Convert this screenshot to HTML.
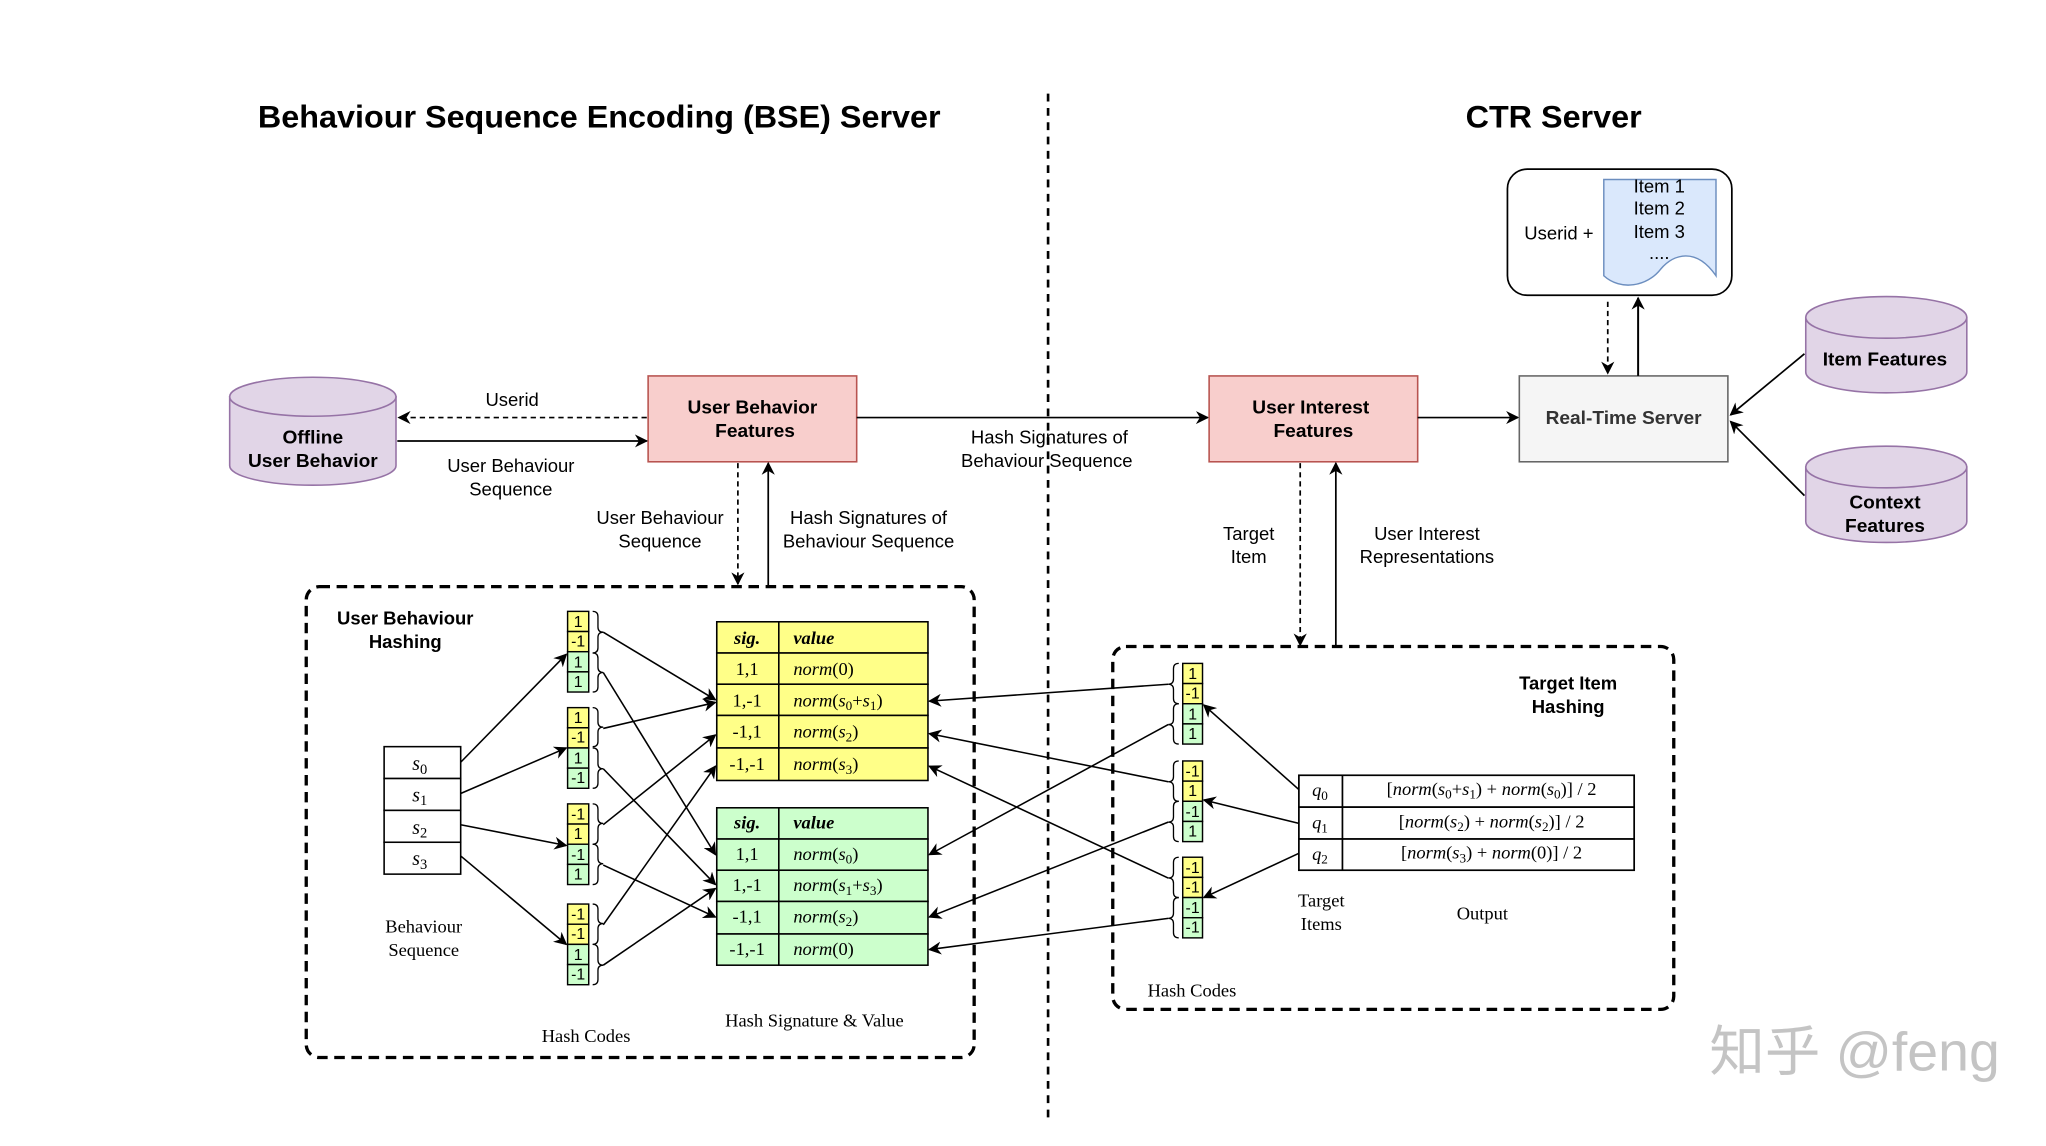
<!DOCTYPE html>
<html><head><meta charset="utf-8"><style>
html,body{margin:0;padding:0;background:#fff;}
svg{display:block;}
.sans{font-family:"Liberation Sans",sans-serif;}
.serif{font-family:"Liberation Serif",serif;}
</style></head><body>
<svg width="2046" height="1146" viewBox="0 0 1550 881" preserveAspectRatio="none" xmlns="http://www.w3.org/2000/svg">
<defs>
<marker id="ah" markerWidth="10" markerHeight="10" refX="9" refY="5" orient="auto" markerUnits="userSpaceOnUse">
<path d="M0,0 L10,5 L0,10 L3,5 z" fill="#000"/></marker>
</defs>
<rect width="1550" height="881" fill="#fff"/>

<text x="454" y="98" text-anchor="middle" class="sans" font-size="24.5" font-weight="bold">Behaviour Sequence Encoding (BSE) Server</text>
<text x="1177" y="98" text-anchor="middle" class="sans" font-size="24.5" font-weight="bold">CTR Server</text>
<line x1="794" y1="72" x2="794" y2="862" stroke="#000" stroke-width="2" stroke-dasharray="6,5"/>

<g stroke="#9673a6" stroke-width="1.2" fill="#e1d5e7">
<path d="M174,305 L174,358 A63,15 0 0 0 300,358 L300,305 Z"/>
<ellipse cx="237" cy="305" rx="63" ry="15"/>
</g>
<text x="237" y="341" text-anchor="middle" class="sans" font-size="14.5" font-weight="bold">Offline</text>
<text x="237" y="359" text-anchor="middle" class="sans" font-size="14.5" font-weight="bold">User Behavior</text>

<rect x="491" y="289" width="158" height="66" fill="#f8cecc" stroke="#b85450" stroke-width="1.2"/>
<text x="570" y="318" text-anchor="middle" class="sans" font-size="14.5" font-weight="bold">User Behavior</text>
<text x="572" y="336" text-anchor="middle" class="sans" font-size="14.5" font-weight="bold">Features</text>

<line x1="490" y1="321" x2="302" y2="321" stroke="#000" stroke-width="1.3" stroke-dasharray="4,3" marker-end="url(#ah)"/>
<text x="388" y="312" text-anchor="middle" class="sans" font-size="14">Userid</text>
<line x1="301" y1="339" x2="490" y2="339" stroke="#000" stroke-width="1.3" marker-end="url(#ah)"/>
<text x="387" y="363" text-anchor="middle" class="sans" font-size="14">User Behaviour</text>
<text x="387" y="381" text-anchor="middle" class="sans" font-size="14">Sequence</text>

<line x1="649" y1="321" x2="915" y2="321" stroke="#000" stroke-width="1.3" marker-end="url(#ah)"/>
<text x="795" y="341" text-anchor="middle" class="sans" font-size="14">Hash Signatures of</text>
<text x="793" y="359" text-anchor="middle" class="sans" font-size="14">Behaviour Sequence</text>

<rect x="916" y="289" width="158" height="66" fill="#f8cecc" stroke="#b85450" stroke-width="1.2"/>
<text x="993" y="318" text-anchor="middle" class="sans" font-size="14.5" font-weight="bold">User Interest</text>
<text x="995" y="336" text-anchor="middle" class="sans" font-size="14.5" font-weight="bold">Features</text>
<line x1="1074" y1="321" x2="1150" y2="321" stroke="#000" stroke-width="1.3" marker-end="url(#ah)"/>

<rect x="1151" y="289" width="158" height="66" fill="#f5f5f5" stroke="#666" stroke-width="1.2"/>
<text x="1230" y="326" text-anchor="middle" class="sans" font-size="14.5" font-weight="bold" fill="#333">Real-Time Server</text>

<g stroke="#9673a6" stroke-width="1.2" fill="#e1d5e7">
<path d="M1368,244 L1368,286 A61,16 0 0 0 1490,286 L1490,244 Z"/>
<ellipse cx="1429" cy="244" rx="61" ry="16"/>
</g>
<text x="1428" y="281" text-anchor="middle" class="sans" font-size="14.5" font-weight="bold">Item Features</text>
<g stroke="#9673a6" stroke-width="1.2" fill="#e1d5e7">
<path d="M1368,359 L1368,401 A61,16 0 0 0 1490,401 L1490,359 Z"/>
<ellipse cx="1429" cy="359" rx="61" ry="16"/>
</g>
<text x="1428" y="391" text-anchor="middle" class="sans" font-size="14.5" font-weight="bold">Context</text>
<text x="1428" y="409" text-anchor="middle" class="sans" font-size="14.5" font-weight="bold">Features</text>
<line x1="1367" y1="272" x2="1311" y2="319" stroke="#000" stroke-width="1.3" marker-end="url(#ah)"/>
<line x1="1367" y1="381" x2="1311" y2="324" stroke="#000" stroke-width="1.3" marker-end="url(#ah)"/>

<rect x="1142" y="130" width="170" height="97" rx="15" fill="#fff" stroke="#000" stroke-width="1.3"/>
<path d="M1215,138 L1300,138 L1300,212 C1285,190 1268,195 1258,207 C1248,220 1228,224 1215,212 Z" fill="#dae8fc" stroke="#6c8ebf" stroke-width="1.1"/>
<text x="1181" y="184" text-anchor="middle" class="sans" font-size="14">Userid +</text>
<text x="1257" y="148" text-anchor="middle" class="sans" font-size="14">Item 1</text>
<text x="1257" y="165" text-anchor="middle" class="sans" font-size="14">Item 2</text>
<text x="1257" y="183" text-anchor="middle" class="sans" font-size="14">Item 3</text>
<text x="1257" y="199" text-anchor="middle" class="sans" font-size="14">....</text>
<line x1="1218" y1="232" x2="1218" y2="287" stroke="#000" stroke-width="1.3" stroke-dasharray="4,3" marker-end="url(#ah)"/>
<line x1="1241" y1="289" x2="1241" y2="229" stroke="#000" stroke-width="1.5" marker-end="url(#ah)"/>

<line x1="559" y1="356" x2="559" y2="449" stroke="#000" stroke-width="1.3" stroke-dasharray="4,3" marker-end="url(#ah)"/>
<line x1="582" y1="451" x2="582" y2="356" stroke="#000" stroke-width="1.3" marker-end="url(#ah)"/>
<text x="500" y="403" text-anchor="middle" class="sans" font-size="14">User Behaviour</text>
<text x="500" y="421" text-anchor="middle" class="sans" font-size="14">Sequence</text>
<text x="658" y="403" text-anchor="middle" class="sans" font-size="14">Hash Signatures of</text>
<text x="658" y="421" text-anchor="middle" class="sans" font-size="14">Behaviour Sequence</text>

<line x1="985" y1="356" x2="985" y2="496" stroke="#000" stroke-width="1.3" stroke-dasharray="4,3" marker-end="url(#ah)"/>
<line x1="1012" y1="498" x2="1012" y2="356" stroke="#000" stroke-width="1.3" marker-end="url(#ah)"/>
<text x="946" y="415" text-anchor="middle" class="sans" font-size="14">Target</text>
<text x="946" y="433" text-anchor="middle" class="sans" font-size="14">Item</text>
<text x="1081" y="415" text-anchor="middle" class="sans" font-size="14">User Interest</text>
<text x="1081" y="433" text-anchor="middle" class="sans" font-size="14">Representations</text>

<rect x="232" y="451" width="506" height="362" rx="10" fill="none" stroke="#000" stroke-width="2.5" stroke-dasharray="8,5"/>
<text x="307" y="480" text-anchor="middle" class="sans" font-size="14" font-weight="bold">User Behaviour</text>
<text x="307" y="498" text-anchor="middle" class="sans" font-size="14" font-weight="bold">Hashing</text>

<g stroke="#000" stroke-width="1.2" fill="#fff">
<rect x="291" y="574" width="58" height="24.5"/><rect x="291" y="598.5" width="58" height="24.5"/>
<rect x="291" y="623" width="58" height="24.5"/><rect x="291" y="647.5" width="58" height="24.5"/>
</g>
<g class="serif" font-size="15" font-style="italic" text-anchor="middle">
<text x="318" y="592">s<tspan font-size="11" font-style="normal" dy="3">0</tspan></text>
<text x="318" y="616">s<tspan font-size="11" font-style="normal" dy="3">1</tspan></text>
<text x="318" y="641">s<tspan font-size="11" font-style="normal" dy="3">2</tspan></text>
<text x="318" y="665">s<tspan font-size="11" font-style="normal" dy="3">3</tspan></text>
</g>
<text x="321" y="717" text-anchor="middle" class="serif" font-size="14">Behaviour</text>
<text x="321" y="735" text-anchor="middle" class="serif" font-size="14">Sequence</text>
<text x="444" y="801" text-anchor="middle" class="serif" font-size="14">Hash Codes</text>
<text x="617" y="789" text-anchor="middle" class="serif" font-size="14">Hash Signature &amp; Value</text>

<g class="sans" font-size="12" text-anchor="middle" stroke-width="1.1">
<rect x="430" y="470" width="16" height="15.5" fill="#ffff88" stroke="#000"/><text x="438" y="482">1</text>
<rect x="430" y="485.5" width="16" height="15.5" fill="#ffff88" stroke="#000"/><text x="438" y="497">-1</text>
<rect x="430" y="501" width="16" height="15.5" fill="#ccffcc" stroke="#000"/><text x="438" y="513">1</text>
<rect x="430" y="516.5" width="16" height="15.5" fill="#ccffcc" stroke="#000"/><text x="438" y="528">1</text>
<rect x="430" y="544" width="16" height="15.5" fill="#ffff88" stroke="#000"/><text x="438" y="556">1</text>
<rect x="430" y="559.5" width="16" height="15.5" fill="#ffff88" stroke="#000"/><text x="438" y="571">-1</text>
<rect x="430" y="575" width="16" height="15.5" fill="#ccffcc" stroke="#000"/><text x="438" y="587">1</text>
<rect x="430" y="590.5" width="16" height="15.5" fill="#ccffcc" stroke="#000"/><text x="438" y="602">-1</text>
<rect x="430" y="618" width="16" height="15.5" fill="#ffff88" stroke="#000"/><text x="438" y="630">-1</text>
<rect x="430" y="633.5" width="16" height="15.5" fill="#ffff88" stroke="#000"/><text x="438" y="645">1</text>
<rect x="430" y="649" width="16" height="15.5" fill="#ccffcc" stroke="#000"/><text x="438" y="661">-1</text>
<rect x="430" y="664.5" width="16" height="15.5" fill="#ccffcc" stroke="#000"/><text x="438" y="676">1</text>
<rect x="430" y="695" width="16" height="15.5" fill="#ffff88" stroke="#000"/><text x="438" y="707">-1</text>
<rect x="430" y="710.5" width="16" height="15.5" fill="#ffff88" stroke="#000"/><text x="438" y="722">-1</text>
<rect x="430" y="726" width="16" height="15.5" fill="#ccffcc" stroke="#000"/><text x="438" y="738">1</text>
<rect x="430" y="741.5" width="16" height="15.5" fill="#ccffcc" stroke="#000"/><text x="438" y="753">-1</text>
</g>
<g fill="none" stroke="#000" stroke-width="1">
<path d="M449,470 q4,0 4,4 v8 q0,4 4,4 q-4,0 -4,4 v8 q0,4 -4,4"/>
<path d="M449,502 q4,0 4,4 v7 q0,4 4,4 q-4,0 -4,4 v7 q0,4 -4,4"/>
<path d="M449,544 q4,0 4,4 v7 q0,4 4,4 q-4,0 -4,4 v7 q0,4 -4,4"/>
<path d="M449,575 q4,0 4,4 v8 q0,4 4,4 q-4,0 -4,4 v7 q0,4 -4,4"/>
<path d="M449,618 q4,0 4,4 v7 q0,4 4,4 q-4,0 -4,4 v8 q0,4 -4,4"/>
<path d="M449,649 q4,0 4,4 v7 q0,4 4,4 q-4,0 -4,4 v8 q0,4 -4,4"/>
<path d="M449,695 q4,0 4,4 v7 q0,4 4,4 q-4,0 -4,4 v8 q0,4 -4,4"/>
<path d="M449,726 q4,0 4,4 v8 q0,4 4,4 q-4,0 -4,4 v7 q0,4 -4,4"/>
</g>
<g stroke="#000" stroke-width="1.2">
<line x1="349" y1="586" x2="429" y2="503" marker-end="url(#ah)"/>
<line x1="349" y1="610" x2="429" y2="575" marker-end="url(#ah)"/>
<line x1="349" y1="634" x2="429" y2="650" marker-end="url(#ah)"/>
<line x1="349" y1="658" x2="429" y2="726" marker-end="url(#ah)"/>
<line x1="457" y1="486" x2="542" y2="538" marker-end="url(#ah)"/>
<line x1="457" y1="517" x2="542" y2="657" marker-end="url(#ah)"/>
<line x1="457" y1="560" x2="542" y2="540" marker-end="url(#ah)"/>
<line x1="457" y1="591" x2="542" y2="680" marker-end="url(#ah)"/>
<line x1="457" y1="634" x2="542" y2="565" marker-end="url(#ah)"/>
<line x1="457" y1="665" x2="542" y2="705" marker-end="url(#ah)"/>
<line x1="457" y1="711" x2="542" y2="589" marker-end="url(#ah)"/>
<line x1="457" y1="742" x2="542" y2="683" marker-end="url(#ah)"/>
</g>

<g stroke="#000" stroke-width="1.2" fill="#ffff88">
<rect x="543" y="478" width="160" height="24"/>
<rect x="543" y="502" width="160" height="24"/>
<rect x="543" y="526" width="160" height="24"/>
<rect x="543" y="550" width="160" height="25"/>
<rect x="543" y="575" width="160" height="25"/>
<line x1="590" y1="478" x2="590" y2="600"/>
</g>
<g class="serif" font-size="14">
<text x="566" y="495" text-anchor="middle" font-style="italic" font-weight="bold">sig.</text>
<text x="601" y="495" font-style="italic" font-weight="bold">value</text>
<text x="566" y="519" text-anchor="middle">1,1</text><text x="601" y="519"><tspan font-style="italic">norm</tspan>(0)</text>
<text x="566" y="543" text-anchor="middle">1,-1</text><text x="601" y="543"><tspan font-style="italic">norm</tspan>(<tspan font-style="italic">s</tspan><tspan font-size="10" dy="3">0</tspan><tspan dy="-3">+</tspan><tspan font-style="italic">s</tspan><tspan font-size="10" dy="3">1</tspan><tspan dy="-3">)</tspan></text>
<text x="566" y="567" text-anchor="middle">-1,1</text><text x="601" y="567"><tspan font-style="italic">norm</tspan>(<tspan font-style="italic">s</tspan><tspan font-size="10" dy="3">2</tspan><tspan dy="-3">)</tspan></text>
<text x="566" y="592" text-anchor="middle">-1,-1</text><text x="601" y="592"><tspan font-style="italic">norm</tspan>(<tspan font-style="italic">s</tspan><tspan font-size="10" dy="3">3</tspan><tspan dy="-3">)</tspan></text>
</g>
<g stroke="#000" stroke-width="1.2" fill="#ccffcc">
<rect x="543" y="621" width="160" height="24"/>
<rect x="543" y="645" width="160" height="24"/>
<rect x="543" y="669" width="160" height="24"/>
<rect x="543" y="693" width="160" height="25"/>
<rect x="543" y="718" width="160" height="24"/>
<line x1="590" y1="621" x2="590" y2="742"/>
</g>
<g class="serif" font-size="14">
<text x="566" y="637" text-anchor="middle" font-style="italic" font-weight="bold">sig.</text>
<text x="601" y="637" font-style="italic" font-weight="bold">value</text>
<text x="566" y="661" text-anchor="middle">1,1</text><text x="601" y="661"><tspan font-style="italic">norm</tspan>(<tspan font-style="italic">s</tspan><tspan font-size="10" dy="3">0</tspan><tspan dy="-3">)</tspan></text>
<text x="566" y="685" text-anchor="middle">1,-1</text><text x="601" y="685"><tspan font-style="italic">norm</tspan>(<tspan font-style="italic">s</tspan><tspan font-size="10" dy="3">1</tspan><tspan dy="-3">+</tspan><tspan font-style="italic">s</tspan><tspan font-size="10" dy="3">3</tspan><tspan dy="-3">)</tspan></text>
<text x="566" y="709" text-anchor="middle">-1,1</text><text x="601" y="709"><tspan font-style="italic">norm</tspan>(<tspan font-style="italic">s</tspan><tspan font-size="10" dy="3">2</tspan><tspan dy="-3">)</tspan></text>
<text x="566" y="734" text-anchor="middle">-1,-1</text><text x="601" y="734"><tspan font-style="italic">norm</tspan>(0)</text>
</g>

<rect x="843" y="497" width="425" height="279" rx="10" fill="none" stroke="#000" stroke-width="2.5" stroke-dasharray="8,5"/>
<text x="1188" y="530" text-anchor="middle" class="sans" font-size="14" font-weight="bold">Target Item</text>
<text x="1188" y="548" text-anchor="middle" class="sans" font-size="14" font-weight="bold">Hashing</text>

<g class="sans" font-size="12" text-anchor="middle" stroke-width="1.1">
<rect x="896" y="510" width="15" height="15.5" fill="#ffff88" stroke="#000"/><text x="903.5" y="522">1</text>
<rect x="896" y="525.5" width="15" height="15.5" fill="#ffff88" stroke="#000"/><text x="903.5" y="537">-1</text>
<rect x="896" y="541" width="15" height="15.5" fill="#ccffcc" stroke="#000"/><text x="903.5" y="553">1</text>
<rect x="896" y="556.5" width="15" height="15.5" fill="#ccffcc" stroke="#000"/><text x="903.5" y="568">1</text>
<rect x="896" y="585" width="15" height="15.5" fill="#ffff88" stroke="#000"/><text x="903.5" y="597">-1</text>
<rect x="896" y="600.5" width="15" height="15.5" fill="#ffff88" stroke="#000"/><text x="903.5" y="612">1</text>
<rect x="896" y="616" width="15" height="15.5" fill="#ccffcc" stroke="#000"/><text x="903.5" y="628">-1</text>
<rect x="896" y="631.5" width="15" height="15.5" fill="#ccffcc" stroke="#000"/><text x="903.5" y="643">1</text>
<rect x="896" y="659" width="15" height="15.5" fill="#ffff88" stroke="#000"/><text x="903.5" y="671">-1</text>
<rect x="896" y="674.5" width="15" height="15.5" fill="#ffff88" stroke="#000"/><text x="903.5" y="686">-1</text>
<rect x="896" y="690" width="15" height="15.5" fill="#ccffcc" stroke="#000"/><text x="903.5" y="702">-1</text>
<rect x="896" y="705.5" width="15" height="15.5" fill="#ccffcc" stroke="#000"/><text x="903.5" y="717">-1</text>
</g>
<g fill="none" stroke="#000" stroke-width="1">
<path d="M893,510 q-4,0 -4,4 v8 q0,4 -4,4 q4,0 4,4 v7 q0,4 4,4"/>
<path d="M893,541 q-4,0 -4,4 v8 q0,4 -4,4 q4,0 4,4 v7 q0,4 4,4"/>
<path d="M893,585 q-4,0 -4,4 v8 q0,4 -4,4 q4,0 4,4 v7 q0,4 4,4"/>
<path d="M893,616 q-4,0 -4,4 v8 q0,4 -4,4 q4,0 4,4 v7 q0,4 4,4"/>
<path d="M893,659 q-4,0 -4,4 v8 q0,4 -4,4 q4,0 4,4 v7 q0,4 4,4"/>
<path d="M893,690 q-4,0 -4,4 v8 q0,4 -4,4 q4,0 4,4 v7 q0,4 4,4"/>
</g>
<g stroke="#000" stroke-width="1.2">
<line x1="885" y1="526" x2="704" y2="539" marker-end="url(#ah)"/>
<line x1="885" y1="557" x2="704" y2="657" marker-end="url(#ah)"/>
<line x1="885" y1="601" x2="704" y2="564" marker-end="url(#ah)"/>
<line x1="885" y1="632" x2="704" y2="705" marker-end="url(#ah)"/>
<line x1="885" y1="675" x2="704" y2="589" marker-end="url(#ah)"/>
<line x1="885" y1="706" x2="704" y2="730" marker-end="url(#ah)"/>
<line x1="984" y1="607" x2="912" y2="542" marker-end="url(#ah)"/>
<line x1="984" y1="633" x2="912" y2="615" marker-end="url(#ah)"/>
<line x1="984" y1="656" x2="912" y2="690" marker-end="url(#ah)"/>
</g>

<g stroke="#000" stroke-width="1.3" fill="#fff">
<rect x="984" y="596" width="254" height="24.5"/>
<rect x="984" y="620.5" width="254" height="24.5"/>
<rect x="984" y="645" width="254" height="24"/>
<line x1="1017" y1="596" x2="1017" y2="669"/>
</g>
<g class="serif" font-size="14">
<text x="1000" y="612" text-anchor="middle" font-style="italic">q<tspan font-size="10" font-style="normal" dy="3">0</tspan></text>
<text x="1000" y="637" text-anchor="middle" font-style="italic">q<tspan font-size="10" font-style="normal" dy="3">1</tspan></text>
<text x="1000" y="661" text-anchor="middle" font-style="italic">q<tspan font-size="10" font-style="normal" dy="3">2</tspan></text>
<text x="1130" y="611" text-anchor="middle">[<tspan font-style="italic">norm</tspan>(<tspan font-style="italic">s</tspan><tspan font-size="10" dy="3">0</tspan><tspan dy="-3">+</tspan><tspan font-style="italic">s</tspan><tspan font-size="10" dy="3">1</tspan><tspan dy="-3">) + </tspan><tspan font-style="italic">norm</tspan>(<tspan font-style="italic">s</tspan><tspan font-size="10" dy="3">0</tspan><tspan dy="-3">)] / 2</tspan></text>
<text x="1130" y="636" text-anchor="middle">[<tspan font-style="italic">norm</tspan>(<tspan font-style="italic">s</tspan><tspan font-size="10" dy="3">2</tspan><tspan dy="-3">) + </tspan><tspan font-style="italic">norm</tspan>(<tspan font-style="italic">s</tspan><tspan font-size="10" dy="3">2</tspan><tspan dy="-3">)] / 2</tspan></text>
<text x="1130" y="660" text-anchor="middle">[<tspan font-style="italic">norm</tspan>(<tspan font-style="italic">s</tspan><tspan font-size="10" dy="3">3</tspan><tspan dy="-3">) + </tspan><tspan font-style="italic">norm</tspan>(0)] / 2</text>
</g>
<text x="1001" y="697" text-anchor="middle" class="serif" font-size="14">Target</text>
<text x="1001" y="715" text-anchor="middle" class="serif" font-size="14">Items</text>
<text x="1123" y="707" text-anchor="middle" class="serif" font-size="14">Output</text>
<text x="903" y="766" text-anchor="middle" class="serif" font-size="14">Hash Codes</text>

<text x="1405" y="823" text-anchor="middle" font-family="'Liberation Sans','Noto Sans CJK SC',sans-serif" font-size="42" fill="#c4c4c4">知乎 @feng</text>
</svg>
</body></html>
